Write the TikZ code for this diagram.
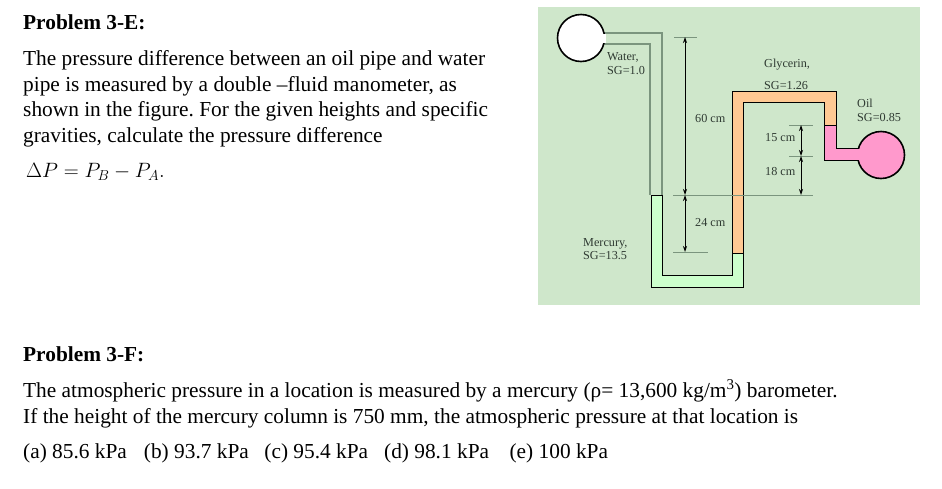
\documentclass[tikz,border=0pt]{standalone}
\usepackage{fontspec}
\setmainfont{Liberation Serif}
\usetikzlibrary{arrows.meta}
\definecolor{panelgreen}{HTML}{CFE7CB}
\definecolor{glycerin}{HTML}{FFC993}
\definecolor{mercury}{HTML}{CCFFCC}
\definecolor{oil}{HTML}{FF99CC}
\definecolor{pipegray}{HTML}{7B957E}
\definecolor{labelgray}{HTML}{2F3A32}
\tikzstyle{body} = [anchor=base west, inner sep=0pt, font=\fontsize{21.35}{24}\selectfont\frenchspacing]
\tikzstyle{label} = [anchor=base west, inner sep=0pt, text=labelgray, font=\fontsize{12.2}{14}\selectfont]
\tikzstyle{bulb} = [circle, minimum size=47pt, inner sep=0pt, draw=black, line width=1.6pt]
\tikzstyle{tick} = [pipegray, line width=1pt]
\tikzstyle{dim} = [line width=0.8pt, {Stealth[length=6pt,width=4pt]}-{Stealth[length=6pt,width=4pt]}]

\begin{document}
\begin{tikzpicture}[x=1pt, y=-1pt]
\useasboundingbox (0,0) rectangle (942,488);
\fill [panelgreen] (538,7) rectangle (920,305);

\node (title1) [body, font=\fontsize{21.35}{24}\selectfont\bfseries] at (23,29.5) {Problem 3-E:};
\node (line1) [body] at (23,65.5) {The pressure difference between an oil pipe and water};
\node (line2) [body] at (23,91) {pipe is measured by a double –fluid manometer, as};
\node (line3) [body] at (23,116.5) {shown in the figure. For the given heights and specific};
\node (line4) [body] at (23,142) {gravities, calculate the pressure difference};
\node (eqn) [body, font=\fontsize{19.5}{24}\selectfont] at (26,177.5) {$\Delta P = P_B - P_A.$};
\node (title2) [body, font=\fontsize{21.35}{24}\selectfont\bfseries] at (23,361.5) {Problem 3-F:};
\node (line5) [body] at (23,397) {The atmospheric pressure in a location is measured by a mercury (ρ= 13,600 kg/m\textsuperscript{3}) barometer.};
\node (line6) [body] at (23,423) {If the height of the mercury column is 750 mm, the atmospheric pressure at that location is};
\node (choices) [body] at (23,458) {(a) 85.6 kPa\hspace{17pt}(b) 93.7 kPa\hspace{15.5pt}(c) 95.4 kPa\hspace{16pt}(d) 98.1 kPa\hspace{20.5pt}(e) 100 kPa};

% fluids
\draw [fill=mercury, line width=0.9pt] (651,195) -- (651,287) -- (743,287) -- (743,253) -- (732,253) -- (732,275) -- (662,275) -- (662,195) -- cycle;
\draw [fill=glycerin, line width=0.9pt] (732,253) -- (732,91) -- (836,91) -- (836,125) -- (824,125) -- (824,102) -- (743,102) -- (743,253) -- cycle;
\draw [fill=oil, line width=0.9pt] (824,125) -- (836,125) -- (836,148) -- (860,148) -- (860,160) -- (824,160) -- cycle;
\draw [pipegray, line width=1.2pt] (604,33) -- (662,33) -- (662,195);
\draw [pipegray, line width=1.2pt] (604,44) -- (650,44) -- (650,195);

\node (pipeA) [bulb, fill=white] at (581,38) {};
\node (pipeB) [bulb, fill=oil] at (881,155) {};
\fill [oil] (855,148.5) rectangle (861,159.5);
\fill [white] (603,33.6) rectangle (606,43.4);

% dimensions
\coordinate (a1) at (674,37);
\coordinate (a2) at (697,37);
\coordinate (b1) at (673,195);
\coordinate (b2) at (813,195);
\coordinate (c1) at (673,252);
\coordinate (c2) at (708,252);
\coordinate (d1) at (789,125);
\coordinate (d2) at (813,125);
\coordinate (e1) at (789,156);
\coordinate (e2) at (813,156);
\draw [tick] (a1) -- (a2);
\draw [tick] (b1) -- (b2);
\draw [tick] (c1) -- (c2);
\draw [tick] (d1) -- (d2);
\draw [tick] (e1) -- (e2);
\draw [dim] (685,37) -- (685,195);
\draw [dim] (685,195) -- (685,252);
\draw [dim] (801,125) -- (801,156);
\draw [dim] (801,156) -- (801,195);

\node (water1) [label] at (607,60) {Water,};
\node (water2) [label] at (607,74) {SG=1.0};
\node (glyc1) [label] at (764,67) {Glycerin,};
\node (glyc2) [label] at (764,89) {SG=1.26};
\node (oil1) [label] at (857,107) {Oil};
\node (oil2) [label] at (857,121) {SG=0.85};
\node (merc1) [label] at (583,246) {Mercury,};
\node (merc2) [label] at (583,259) {SG=13.5};
\node (h60) [label] at (695,122) {60 cm};
\node (h24) [label] at (695,226) {24 cm};
\node (h15) [label] at (765,141) {15 cm};
\node (h18) [label] at (765,175) {18 cm};

\end{tikzpicture}
\end{document}
